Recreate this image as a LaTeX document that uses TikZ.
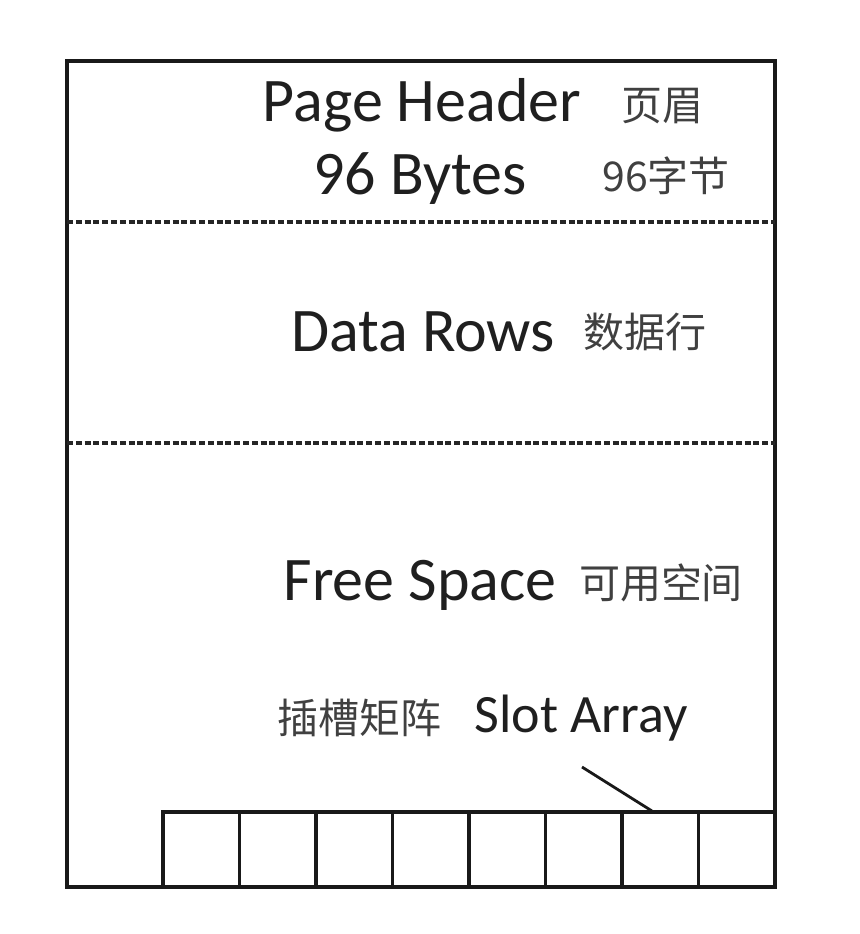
\documentclass[tikz,border=0pt]{standalone}
\usepackage{fontspec}
\setmainfont{Carlito}
\newfontfamily\cjk{Noto Sans CJK SC}
\begin{document}
\begin{tikzpicture}[x=0.5pt,y=-0.5pt,
  outer/.style={draw=black!90,line width=2pt},
  slotbox/.style={draw=black!90,line width=1.6pt},
  sep/.style={draw=black!85,line width=2pt,dash pattern=on 3pt off 1.4pt},
  en/.style={font=\fontsize{31}{36}\selectfont,text=black!88,inner sep=0pt},
  ensmall/.style={font=\fontsize{27}{32}\selectfont,text=black!88,inner sep=0pt},
  zh/.style={font=\cjk\fontsize{20.5}{24}\selectfont,text=black!75,inner sep=0pt}]
\useasboundingbox (0,0) rectangle (859,934);
\draw[outer] (67,61) rectangle (775,887);
\coordinate (hl) at (67,222); \coordinate (hr) at (775,222);
\coordinate (dl) at (67,443); \coordinate (dr) at (775,443);
\draw[sep] (hl) -- (hr);
\draw[sep] (dl) -- (dr);
\foreach \i in {0,...,7} {
  \draw[slotbox] ({163+\i*76.5},812) rectangle ({163+(\i+1)*76.5},887);
}
\coordinate (s7) at (652,811);
\node[en] (ph) at (422,105) {Page Header};
\node[en] (pb) at (420,179) {96 Bytes};
\node[zh] (phz) at (662,106) {页眉};
\node[zh] (pbz) at (666,176) {96字节};
\node[en] (drow) at (423,332) {Data Rows};
\node[zh] (drz) at (645,332) {数据行};
\node[en] (fs) at (420,585) {Free Space};
\node[zh] (fsz) at (661,583) {可用空间};
\node[zh] (saz) at (360,718) {插槽矩阵};
\node[ensmall] (sa) at (581,718) {Slot Array};
\coordinate (la) at (582,767);
\draw[line width=1.4pt,black!90] (la) -- (s7);
\end{tikzpicture}
\end{document}
